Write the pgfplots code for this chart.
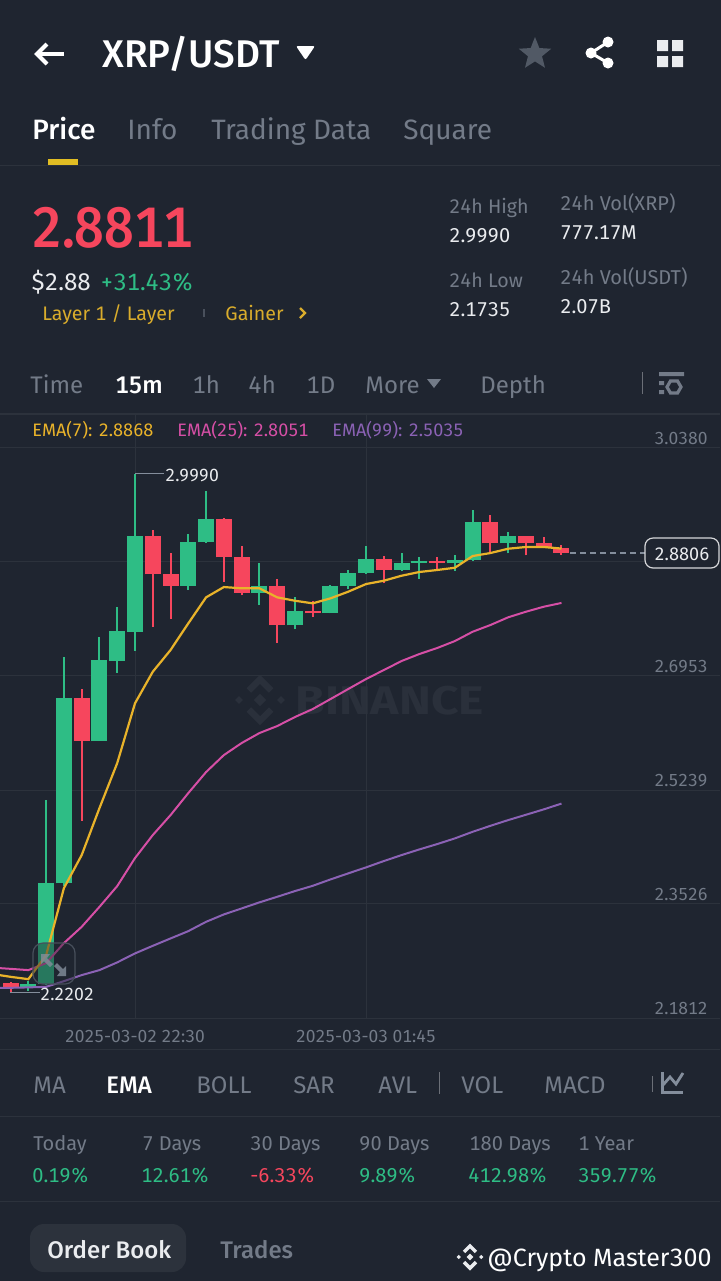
\documentclass[border=0pt]{standalone}
\usepackage{fontspec}
\setmainfont[Numbers=Monospaced]{Fira Sans}
\newfontfamily\med[Numbers=Monospaced]{Fira Sans Medium}
\usepackage{pgfplots}
\usepackage{pgfplotstable}
\pgfplotsset{compat=1.18}
\usetikzlibrary{shapes.geometric}
\definecolor{bg}{HTML}{1F2530}
\definecolor{gridc}{HTML}{2C323C}
\definecolor{grn}{HTML}{2EBD85}
\definecolor{rd}{HTML}{F6465D}
\definecolor{ygl}{HTML}{E9B32A}
\definecolor{pnk}{HTML}{D64FA6}
\definecolor{ppl}{HTML}{8B62B5}
\definecolor{gry}{HTML}{848E9C}
\definecolor{dgry}{HTML}{737B88}
\definecolor{wht}{HTML}{EAECEF}
\definecolor{gold}{HTML}{D9AC2C}
\definecolor{wm}{HTML}{2A303B}
\newcommand\T[6][]{\node[anchor=base west,inner sep=0pt,text=#5,#1] at (#2,#3) {\fontsize{#4}{#4}\selectfont #6};}
\newcommand\BLogo[4]{%
  \begin{scope}[shift={(#1,#2)},x=#3*0.5pt,y=-#3*0.5pt]
    \fill[#4] (0,-.22)--(.22,0)--(0,.22)--(-.22,0)--cycle;
    \fill[#4] (-.75,-.14)--(-.61,0)--(-.75,.14)--(-.89,0)--cycle;
    \fill[#4] (.75,-.14)--(.89,0)--(.75,.14)--(.61,0)--cycle;
    \fill[#4] (0,-.9)--(.48,-.42)--(.32,-.26)--(0,-.58)--(-.32,-.26)--(-.48,-.42)--cycle;
    \fill[#4] (0,.9)--(.48,.42)--(.32,.26)--(0,.58)--(-.32,.26)--(-.48,.42)--cycle;
  \end{scope}}
\pgfplotstableread{
i open close high low
1 2.2257 2.2321 2.2362 2.2221
2 2.2321 2.3835 2.5088 2.2306
3 2.3835 2.6617 2.7242 2.3795
5 2.5975 2.7188 2.7543 2.5975
6 2.7182 2.7624 2.7985 2.7002
7 2.7618 2.9061 2.9990 2.7332
10 2.8310 2.8962 2.9087 2.8250
11 2.8962 2.9308 2.9738 2.8956
14 2.8204 2.8310 2.8646 2.8020
16 2.7714 2.7925 2.8135 2.7654
18 2.7904 2.8301 2.8316 2.7895
19 2.8301 2.8505 2.8546 2.8260
20 2.8505 2.8711 2.8907 2.8486
22 2.8550 2.8651 2.8797 2.8531
23 2.8651 2.8681 2.8737 2.8415
25 2.8646 2.8696 2.8771 2.8535
26 2.8696 2.9272 2.9448 2.8686
28 2.8947 2.9057 2.9117 2.8797
}\upcandles
\pgfplotstableread{
i open close high low
0 2.2341 2.2272 2.2351 2.2202
4 2.6617 2.5975 2.6761 2.4776
8 2.9061 2.8481 2.9147 2.7693
9 2.8481 2.8310 2.8797 2.7809
12 2.9308 2.8737 2.9323 2.8370
13 2.8737 2.8204 2.8907 2.8165
15 2.8310 2.7714 2.8406 2.7448
17 2.7925 2.7895 2.8084 2.7844
21 2.8711 2.8550 2.8756 2.8346
24 2.8681 2.8651 2.8741 2.8546
27 2.9272 2.8947 2.9373 2.8821
29 2.9057 2.8956 2.9061 2.8767
30 2.8947 2.8881 2.9037 2.8872
31 2.8881 2.8806 2.8917 2.8776
}\downcandles
\pgfplotstableread{
i ema7 ema25 ema99
-1 2.2472 2.2569 2.2266
0 2.2431 2.2551 2.2266
1 2.2396 2.2532 2.2272
2 2.2757 2.2637 2.2281
3 2.3765 2.2938 2.2366
4 2.4261 2.3183 2.2457
5 2.4967 2.3483 2.2532
6 2.5644 2.3795 2.2648
7 2.6542 2.4216 2.2783
8 2.7017 2.4562 2.2897
9 2.7343 2.4862 2.3008
10 2.7744 2.5193 2.3118
11 2.8135 2.5509 2.3258
12 2.8290 2.5764 2.3369
13 2.8271 2.5945 2.3459
14 2.8271 2.6095 2.3550
15 2.8135 2.6200 2.3634
16 2.8084 2.6336 2.3720
17 2.8045 2.6456 2.3799
18 2.8120 2.6606 2.3895
19 2.8220 2.6757 2.3986
20 2.8335 2.6907 2.4076
21 2.8385 2.7042 2.4171
22 2.8460 2.7178 2.4261
23 2.8516 2.7283 2.4346
24 2.8546 2.7373 2.4426
25 2.8580 2.7478 2.4512
26 2.8756 2.7618 2.4611
27 2.8801 2.7719 2.4701
28 2.8866 2.7835 2.4787
29 2.8892 2.7919 2.4867
30 2.8892 2.7994 2.4948
31 2.8868 2.8051 2.5035
}\emas
\begin{document}
\begin{tikzpicture}
\path[use as bounding box] (0pt,0pt) rectangle (360pt,-640.5pt);
\begin{scope}[x=0.5pt,y=-0.5pt]
\fill[bg] (-6,-6) rectangle (726,1287);
% watermark
\BLogo{260}{700}{28}{wm}
\T{295}{714}{20}{wm}{\addfontfeatures{FakeStretch=1.2}\bfseries BINANCE}
\end{scope}
\begin{axis}[
  at={(0pt,-509pt)}, anchor=south west, scale only axis,
  width=360pt, height=301.5pt,
  xmin=-0.597, xmax=39.92, ymin=2.1812, ymax=3.0876,
  axis line style={draw=none}, major tick length=0pt,
  xtick={7,20}, xticklabels={2025-03-02 22:30,2025-03-03 01:45},
  ytick={3.0380,2.8667,2.6953,2.5239,2.3526,2.1812},
  yticklabels={3.0380,,2.6953,2.5239,2.3526,2.1812},
  yticklabel pos=right,
  grid=major, grid style={gridc,line width=0.5pt},
  x tick label style={font=\fontsize{8.7}{8.7}\selectfont,text=dgry,inner sep=0pt,yshift=-6pt},
  y tick label style={font=\fontsize{8.7}{8.7}\selectfont,text=dgry,inner sep=0pt,anchor=east,xshift=-6pt,yshift=4.75pt},
  clip=true,
]
\addplot[draw=none,mark=none,forget plot,error bars/.cd,y dir=plus,y explicit,error mark=none,error bar style={draw=grn,line width=1pt}]
  table[x=i,y=low,y error plus expr=\thisrow{high}-\thisrow{low}] {\upcandles};
\addplot[draw=none,mark=none,forget plot,error bars/.cd,y dir=plus,y explicit,error mark=none,error bar style={draw=rd,line width=1pt}]
  table[x=i,y=low,y error plus expr=\thisrow{high}-\thisrow{low}] {\downcandles};
\addplot[draw=none,mark=none,forget plot,error bars/.cd,y dir=plus,y explicit,error mark=none,error bar style={draw=grn,line width=8pt}]
  table[x=i,y=open,y error plus expr=\thisrow{close}-\thisrow{open}] {\upcandles};
\addplot[draw=none,mark=none,forget plot,error bars/.cd,y dir=plus,y explicit,error mark=none,error bar style={draw=rd,line width=8pt}]
  table[x=i,y=close,y error plus expr=\thisrow{open}-\thisrow{close}] {\downcandles};
\addplot[ppl,line width=1pt] table[x=i,y=ema99] {\emas};
\addplot[pnk,line width=1pt] table[x=i,y=ema25] {\emas};
\addplot[ygl,line width=1.1pt] table[x=i,y=ema7] {\emas};
\end{axis}
\begin{scope}[x=0.5pt,y=-0.5pt]
% header
\draw[white,line width=2pt] (36,54)--(64,54);
\draw[white,line width=2pt] (47,44)--(37,54)--(47,64);
\T{102}{67}{19.3}{white}{\med XRP/USDT}
\fill[white,rounded corners=1pt] (296,46)--(315,46)--(305.5,60)--cycle;
\node[star,star points=5,star point ratio=2.3,fill=dgry!60!bg,inner sep=0pt,minimum size=17pt] at (535,54) {};
\draw[white,line width=1.5pt] (608,42)--(591,53)--(608,63);
\fill[white] (608,42) circle (5.5) (591,53) circle (5.5) (608,63) circle (5.5);
\fill[wht] (657,40) rectangle (668,51) (672,40) rectangle (683,51) (657,56) rectangle (668,67) (672,56) rectangle (683,67);
% tabs
\T{32}{139}{14}{white}{\med Price}
\T{127}{139}{14}{dgry}{Info}
\T{211}{139}{14}{dgry}{Trading Data}
\T{403}{139}{14}{dgry}{Square}
\fill[gold!80!yellow] (48,159) rectangle (78,165);
\draw[gridc,line width=0.6pt] (0,165.5)--(720,165.5);
% price block
\T{32}{247}{28.5}{rd}{\med\addfontfeatures{FakeStretch=0.93}2.8811}
\T{31}{290}{12}{wht}{\$2.88}
\T{100}{290}{11.8}{grn}{+31.43\%}
\T{42}{320}{9.8}{gold}{Layer 1 / Layer}
\draw[dgry!50!bg,line width=0.8pt] (204,309)--(204,317);
\T{225}{320}{9.8}{gold}{Gainer}
\draw[gold,line width=1.1pt] (300,308)--(305,313)--(300,318);
\T{449}{213}{9.8}{dgry}{24h High}
\T{449}{242}{10}{wht}{2.9990}
\T{560}{210}{10}{dgry}{24h Vol(XRP)}
\T{560}{239}{10}{wht}{777.17M}
\T{449}{287}{9.8}{dgry}{24h Low}
\T{449}{316}{10}{wht}{2.1735}
\T{560}{284}{10}{dgry}{24h Vol(USDT)}
\T{560}{313}{10}{wht}{2.07B}
% interval row
\T{30}{393}{12}{dgry}{Time}
\T{115}{393}{12}{white}{\med 15m}
\T{192}{393}{12}{dgry}{1h}
\T{248}{393}{12}{dgry}{4h}
\T{306}{393}{12}{dgry}{1D}
\T{365}{393}{12}{dgry}{More}
\fill[dgry] (427,379)--(441,379)--(434,388)--cycle;
\T{480}{393}{12}{dgry}{Depth}
\draw[gridc!70!white,line width=0.5pt] (642,372)--(642,394);
\fill[dgry] (659,372) rectangle (684,376) (659,381) rectangle (664,385) (659,390) rectangle (664,394);
\node[regular polygon,regular polygon sides=6,draw=dgry,line width=1.6pt,inner sep=0pt,minimum size=7pt] at (674,387) {};
\draw[gridc,line width=0.6pt] (0,414)--(720,414);
% EMA legend
\T{32}{436}{9}{ygl}{EMA(7): 2.8868}
\T{177}{436}{9}{pnk}{EMA(25): 2.8051}
\T{332}{436}{9}{ppl}{EMA(99): 2.5035}
% chart annotations
\draw[gry,line width=0.7pt] (135,473.5)--(164,473.5);
\T{165}{481}{8.8}{wht}{2.9990}
\draw[gry,line width=0.7pt] (10,992.5)--(40,992.5);
\T{40}{1000}{8.8}{wht}{2.2202}
\draw[gry,line width=0.7pt,dash pattern=on 3pt off 2pt] (570,553)--(645,553);
\draw[wht!80!gray,fill=bg,line width=0.6pt,rounded corners=4pt] (645,538) rectangle (719,568);
\node[inner sep=0pt,text=wht] at (682,554) {\fontsize{9}{9}\selectfont 2.8806};
% expand icon
\draw[gry!40!bg,fill=bg,fill opacity=0.45,line width=0.6pt,rounded corners=5pt] (33,943) rectangle (75,984);
\fill[gry,opacity=.8] (41,954)--(41,964)--(44,961)--(50,967)--(53,964)--(47,958)--(50,954)--cycle;
\fill[gry,opacity=.8] (66,976)--(66,966)--(63,969)--(57,963)--(54,966)--(60,972)--(57,976)--cycle;
% lower rows
\draw[gridc,line width=0.6pt] (0,1049.5)--(720,1049.5);
\T{33}{1093}{12}{dgry}{MA}
\T{106}{1093}{12}{white}{\med EMA}
\T{196}{1093}{12}{dgry}{BOLL}
\T{293}{1093}{12}{dgry}{SAR}
\T{378}{1093}{12}{dgry}{AVL}
\draw[gridc!70!white,line width=0.5pt] (439,1072)--(439,1094);
\T{461}{1093}{12}{dgry}{VOL}
\T{544}{1093}{12}{dgry}{MACD}
\draw[gridc!70!white,line width=0.5pt] (652,1076)--(652,1092);
\draw[gry,line width=1.5pt] (662,1072)--(662,1092)--(683,1092);
\draw[gry,line width=1.4pt] (663,1085)--(670,1077)--(676,1084)--(683,1073);
\draw[gridc,line width=0.6pt] (0,1116.5)--(720,1116.5);
\T{33}{1150}{10}{dgry}{Today}
\T{142}{1150}{10}{dgry}{7 Days}
\T{250}{1150}{10}{dgry}{30 Days}
\T{359}{1150}{10}{dgry}{90 Days}
\T{469}{1150}{10}{dgry}{180 Days}
\T{578}{1150}{10}{dgry}{1 Year}
\T{32}{1182}{10}{grn}{0.19\%}
\T{141}{1182}{10}{grn}{12.61\%}
\T{250}{1182}{10}{rd}{-6.33\%}
\T{359}{1182}{10}{grn}{9.89\%}
\T{468}{1182}{10}{grn}{412.98\%}
\T{578}{1182}{10}{grn}{359.77\%}
\draw[gridc,line width=0.6pt] (0,1201.5)--(720,1201.5);
\fill[gridc,rounded corners=7pt] (30,1224) rectangle (186,1272);
\T{47}{1258}{12}{wht}{\med Order Book}
\T{220}{1258}{12}{dgry}{\med Trades}
\BLogo{470}{1257}{15}{wht}
\T{487}{1266}{12.5}{white}{@Crypto Master300}
\end{scope}
\end{tikzpicture}
\end{document}
